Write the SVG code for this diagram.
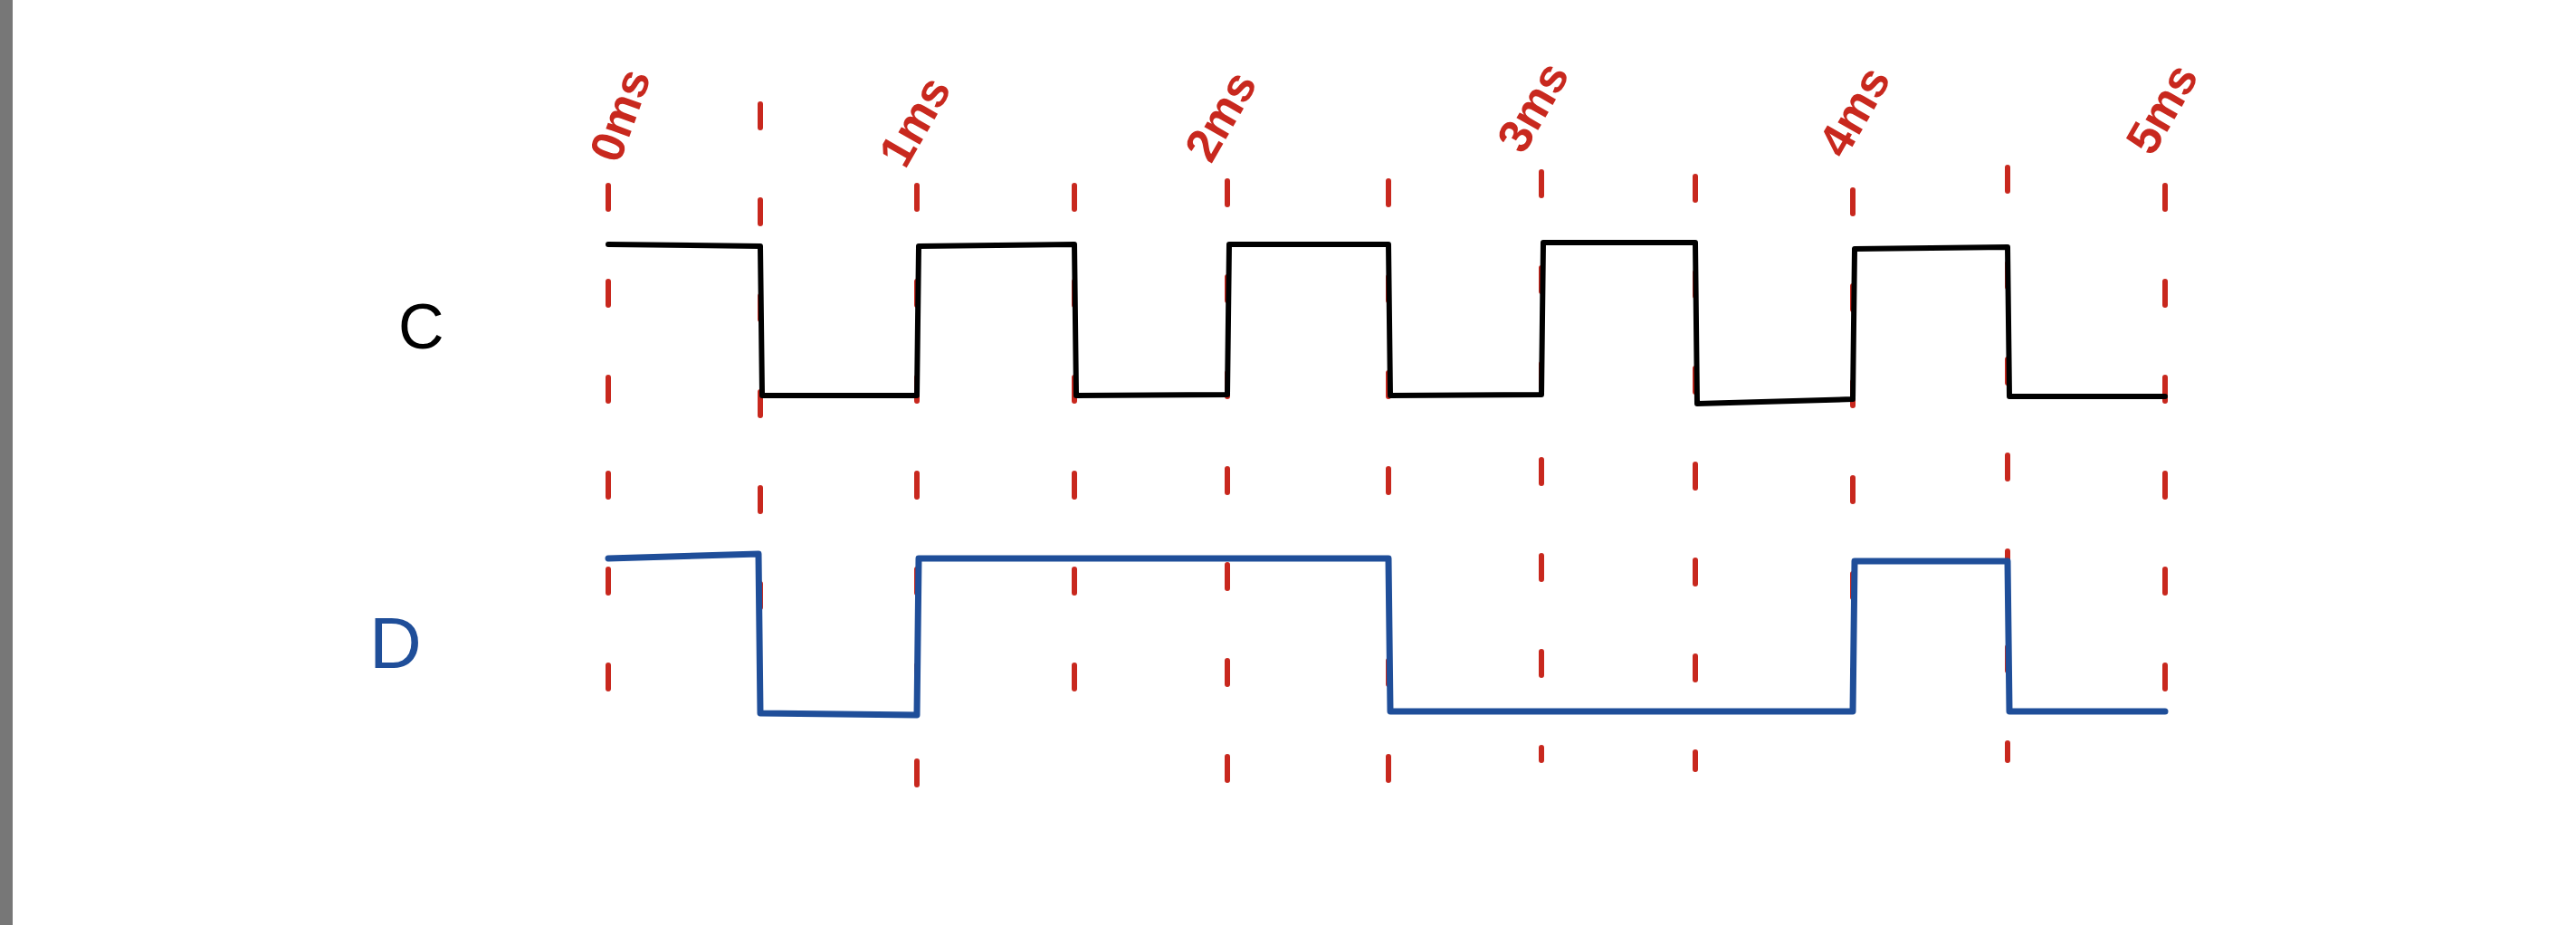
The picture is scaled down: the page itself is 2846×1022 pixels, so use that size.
<svg xmlns="http://www.w3.org/2000/svg" width="2846" height="1022" viewBox="0 0 2846 1022">
<style>
.grid{stroke:#c8281e;stroke-width:6;stroke-linecap:round;stroke-dasharray:26 80;fill:none}
.lbl{fill:#c8281e;font-family:"Liberation Sans",sans-serif;font-size:52px;font-weight:bold}
.wc{stroke:#000;stroke-width:6;fill:none;stroke-linejoin:round;stroke-linecap:round}
.wd{stroke:#1f4e99;stroke-width:7;fill:none;stroke-linejoin:round;stroke-linecap:round}
</style>
<rect width="2846" height="1022" fill="#fff"/>
<rect x="0" y="0" width="14" height="1022" fill="#777"/>
<g id="grid">
<line class="grid" x1="672" y1="205" x2="672" y2="830"/>
<line class="grid" x1="840" y1="115" x2="840" y2="840"/>
<line class="grid" x1="1013" y1="205" x2="1013" y2="875"/>
<line class="grid" x1="1187" y1="205" x2="1187" y2="840"/>
<line class="grid" x1="1356" y1="200" x2="1356" y2="865"/>
<line class="grid" x1="1534" y1="200" x2="1534" y2="870"/>
<line class="grid" x1="1703" y1="190" x2="1703" y2="840"/>
<line class="grid" x1="1873" y1="195" x2="1873" y2="850"/>
<line class="grid" x1="2047" y1="210" x2="2047" y2="840"/>
<line class="grid" x1="2218" y1="185" x2="2218" y2="840"/>
<line class="grid" x1="2392" y1="205" x2="2392" y2="840"/>
</g>
<g id="labels">
<text class="lbl" transform="translate(684,182) rotate(-70)">0ms</text>
<text class="lbl" transform="translate(1000,188) rotate(-60)">1ms</text>
<text class="lbl" transform="translate(1338,182) rotate(-60)">2ms</text>
<text class="lbl" transform="translate(1683,172) rotate(-60)">3ms</text>
<text class="lbl" transform="translate(2038,177) rotate(-60)">4ms</text>
<text class="lbl" transform="translate(2378,174) rotate(-60)">5ms</text>
</g>
<g id="signal-C">
<text x="440" y="385" font-family="Liberation Sans,sans-serif" font-size="70" fill="#000">C</text>
<polyline class="wc" points="672,270 840,272 842,437 1013,437 1015,272 1187,270 1189,437 1356,436 1358,270 1534,270 1536,437 1703,436 1705,268 1873,268 1875,446 2047,441 2049,275 2218,273 2220,438 2392,438"/>
</g>
<g id="signal-D">
<text x="408" y="738" font-family="Liberation Sans,sans-serif" font-size="80" fill="#1f4e99">D</text>
<polyline class="wd" points="672,617 838,612 840,788 1013,790 1015,617 1534,617 1536,786 2047,786 2049,620 2218,620 2220,786 2392,786"/>
</g>
</svg>
